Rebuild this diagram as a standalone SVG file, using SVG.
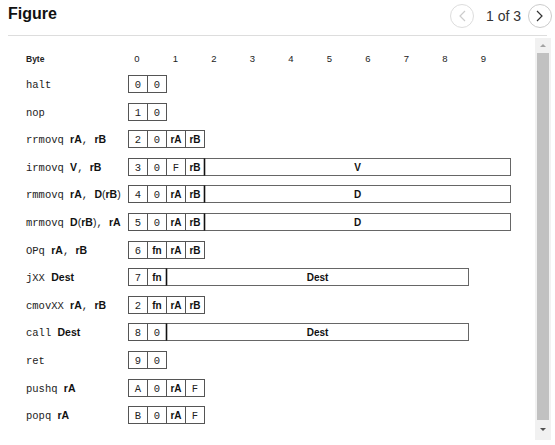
<svg xmlns="http://www.w3.org/2000/svg" width="555" height="445" viewBox="0 0 555 445">
<style>
.mono{font-family:"Liberation Mono","Courier New",Courier,"Nimbus Mono PS",monospace;font-size:10.5px;fill:#222}
.b{font-family:"Liberation Sans",Arial,sans-serif;font-weight:bold;font-size:10.5px;fill:#111}
.p{font-family:"Liberation Sans",Arial,sans-serif;font-size:10.5px;fill:#222}
.cell{fill:#fff;stroke:#555;stroke-width:1}
.long{fill:#fff;stroke:#666;stroke-width:1}
.sep{stroke:#111;stroke-width:1.6}
.cm{font-family:"Liberation Mono","Courier New",Courier,"Nimbus Mono PS",monospace;font-size:10.5px;fill:#222;text-anchor:middle}
.cb{font-family:"Liberation Sans",Arial,sans-serif;font-weight:bold;font-size:10px;fill:#111;text-anchor:middle}
.hdr{font-family:"Liberation Sans",Arial,sans-serif;font-size:9.5px;fill:#222;text-anchor:middle}
</style>
<rect width="555" height="445" fill="#fff"/>
<g id="header">
<text x="8" y="19" font-family="Liberation Sans,Arial,sans-serif" font-weight="bold" font-size="16" fill="#111">Figure</text>
<circle cx="462" cy="16" r="11.5" fill="#fff" stroke="#ddd"/>
<polyline points="465,11 460,16 465,21" fill="none" stroke="#ccc" stroke-width="1.2"/>
<text x="486" y="21" font-family="Liberation Sans,Arial,sans-serif" font-size="14" fill="#333">1 of 3</text>
<circle cx="540" cy="16" r="11.5" fill="#fff" stroke="#ccc"/>
<polyline points="537,11 542,16 537,21" fill="none" stroke="#333" stroke-width="1.2"/>
<line x1="8" y1="35.5" x2="547" y2="35.5" stroke="#ddd"/>
</g>
<g id="scrollbar">
<rect x="535" y="38" width="16" height="402" fill="#f1f1f1"/>
<rect x="537" y="53" width="12" height="367" fill="#c1c1c1"/>
<polygon points="540,47 546,47 543,44" fill="#a3a3a3"/>
<polygon points="540,428 546,428 543,431" fill="#505050"/>
</g>
<g id="byte-row">
<text x="26" y="62" font-family="Liberation Sans,Arial,sans-serif" font-weight="bold" font-size="8.5" fill="#222">Byte</text>
<text class="hdr" x="137" y="62">0</text>
<text class="hdr" x="175.5" y="62">1</text>
<text class="hdr" x="214" y="62">2</text>
<text class="hdr" x="252.5" y="62">3</text>
<text class="hdr" x="291" y="62">4</text>
<text class="hdr" x="329.5" y="62">5</text>
<text class="hdr" x="368" y="62">6</text>
<text class="hdr" x="406.5" y="62">7</text>
<text class="hdr" x="445" y="62">8</text>
<text class="hdr" x="483.5" y="62">9</text>
</g>

<g id="halt">
<text class="mono" x="26" y="88">halt</text>
<rect class="cell" x="128.5" y="75.5" width="19" height="17"/><rect class="cell" x="147.5" y="75.5" width="19" height="17"/>
<text class="cm" x="138" y="88">0</text><text class="cm" x="157" y="88">0</text>
</g>
<g id="nop">
<text class="mono" x="26" y="116">nop</text>
<rect class="cell" x="128.5" y="103.5" width="19" height="17"/><rect class="cell" x="147.5" y="103.5" width="19" height="17"/>
<text class="cm" x="138" y="116">1</text><text class="cm" x="157" y="116">0</text>
</g>
<g id="rrmovq">
<text x="26" y="143"><tspan class="mono">rrmovq </tspan><tspan class="b">rA</tspan><tspan class="mono">, </tspan><tspan class="b">rB</tspan></text>
<rect class="cell" x="128.5" y="130.5" width="19" height="17"/><rect class="cell" x="147.5" y="130.5" width="19" height="17"/><rect class="cell" x="166.5" y="130.5" width="19" height="17"/><rect class="cell" x="185.5" y="130.5" width="19" height="17"/>
<text class="cm" x="138" y="143">2</text><text class="cm" x="157" y="143">0</text><text class="cb" x="176" y="143">rA</text><text class="cb" x="195" y="143">rB</text>
</g>
<g id="irmovq">
<text x="26" y="171"><tspan class="mono">irmovq </tspan><tspan class="b">V</tspan><tspan class="mono">, </tspan><tspan class="b">rB</tspan></text>
<rect class="long" x="204.5" y="158.5" width="306" height="17"/>
<rect class="cell" x="128.5" y="158.5" width="19" height="17"/><rect class="cell" x="147.5" y="158.5" width="19" height="17"/><rect class="cell" x="166.5" y="158.5" width="19" height="17"/><rect class="cell" x="185.5" y="158.5" width="19" height="17"/>
<line class="sep" x1="204.5" y1="158.5" x2="204.5" y2="175.5"/>
<text class="cm" x="138" y="171">3</text><text class="cm" x="157" y="171">0</text><text class="cm" x="176" y="171">F</text><text class="cb" x="195" y="171">rB</text>
<text class="cb" x="357.5" y="171">V</text>
</g>
<g id="rmmovq">
<text x="26" y="198"><tspan class="mono">rmmovq </tspan><tspan class="b">rA</tspan><tspan class="mono">, </tspan><tspan class="b">D</tspan><tspan class="p">(</tspan><tspan class="b">rB</tspan><tspan class="p">)</tspan></text>
<rect class="long" x="204.5" y="185.5" width="306" height="17"/>
<rect class="cell" x="128.5" y="185.5" width="19" height="17"/><rect class="cell" x="147.5" y="185.5" width="19" height="17"/><rect class="cell" x="166.5" y="185.5" width="19" height="17"/><rect class="cell" x="185.5" y="185.5" width="19" height="17"/>
<line class="sep" x1="204.5" y1="185.5" x2="204.5" y2="202.5"/>
<text class="cm" x="138" y="198">4</text><text class="cm" x="157" y="198">0</text><text class="cb" x="176" y="198">rA</text><text class="cb" x="195" y="198">rB</text>
<text class="cb" x="357.5" y="198">D</text>
</g>
<g id="mrmovq">
<text x="26" y="226"><tspan class="mono">mrmovq </tspan><tspan class="b">D</tspan><tspan class="p">(</tspan><tspan class="b">rB</tspan><tspan class="p">)</tspan><tspan class="mono">, </tspan><tspan class="b">rA</tspan></text>
<rect class="long" x="204.5" y="213.5" width="306" height="17"/>
<rect class="cell" x="128.5" y="213.5" width="19" height="17"/><rect class="cell" x="147.5" y="213.5" width="19" height="17"/><rect class="cell" x="166.5" y="213.5" width="19" height="17"/><rect class="cell" x="185.5" y="213.5" width="19" height="17"/>
<line class="sep" x1="204.5" y1="213.5" x2="204.5" y2="230.5"/>
<text class="cm" x="138" y="226">5</text><text class="cm" x="157" y="226">0</text><text class="cb" x="176" y="226">rA</text><text class="cb" x="195" y="226">rB</text>
<text class="cb" x="357.5" y="226">D</text>
</g>
<g id="OPq">
<text x="26" y="254"><tspan class="mono">OPq </tspan><tspan class="b">rA</tspan><tspan class="mono">, </tspan><tspan class="b">rB</tspan></text>
<rect class="cell" x="128.5" y="241.5" width="19" height="17"/><rect class="cell" x="147.5" y="241.5" width="19" height="17"/><rect class="cell" x="166.5" y="241.5" width="19" height="17"/><rect class="cell" x="185.5" y="241.5" width="19" height="17"/>
<text class="cm" x="138" y="254">6</text><text class="cb" x="157" y="254">fn</text><text class="cb" x="176" y="254">rA</text><text class="cb" x="195" y="254">rB</text>
</g>
<g id="jXX">
<text x="26" y="281"><tspan class="mono">jXX </tspan><tspan class="b">Dest</tspan></text>
<rect class="long" x="166.5" y="268.5" width="302" height="17"/>
<rect class="cell" x="128.5" y="268.5" width="19" height="17"/><rect class="cell" x="147.5" y="268.5" width="19" height="17"/>
<line class="sep" x1="166.5" y1="268.5" x2="166.5" y2="285.5"/>
<text class="cm" x="138" y="281">7</text><text class="cb" x="157" y="281">fn</text>
<text class="cb" x="317.5" y="281">Dest</text>
</g>
<g id="cmovXX">
<text x="26" y="309"><tspan class="mono">cmovXX </tspan><tspan class="b">rA</tspan><tspan class="mono">, </tspan><tspan class="b">rB</tspan></text>
<rect class="cell" x="128.5" y="296.5" width="19" height="17"/><rect class="cell" x="147.5" y="296.5" width="19" height="17"/><rect class="cell" x="166.5" y="296.5" width="19" height="17"/><rect class="cell" x="185.5" y="296.5" width="19" height="17"/>
<text class="cm" x="138" y="309">2</text><text class="cb" x="157" y="309">fn</text><text class="cb" x="176" y="309">rA</text><text class="cb" x="195" y="309">rB</text>
</g>
<g id="call">
<text x="26" y="336"><tspan class="mono">call </tspan><tspan class="b">Dest</tspan></text>
<rect class="long" x="166.5" y="323.5" width="302" height="17"/>
<rect class="cell" x="128.5" y="323.5" width="19" height="17"/><rect class="cell" x="147.5" y="323.5" width="19" height="17"/>
<line class="sep" x1="166.5" y1="323.5" x2="166.5" y2="340.5"/>
<text class="cm" x="138" y="336">8</text><text class="cm" x="157" y="336">0</text>
<text class="cb" x="317.5" y="336">Dest</text>
</g>
<g id="ret">
<text class="mono" x="26" y="364">ret</text>
<rect class="cell" x="128.5" y="351.5" width="19" height="17"/><rect class="cell" x="147.5" y="351.5" width="19" height="17"/>
<text class="cm" x="138" y="364">9</text><text class="cm" x="157" y="364">0</text>
</g>
<g id="pushq">
<text x="26" y="392"><tspan class="mono">pushq </tspan><tspan class="b">rA</tspan></text>
<rect class="cell" x="128.5" y="379.5" width="19" height="17"/><rect class="cell" x="147.5" y="379.5" width="19" height="17"/><rect class="cell" x="166.5" y="379.5" width="19" height="17"/><rect class="cell" x="185.5" y="379.5" width="19" height="17"/>
<text class="cm" x="138" y="392">A</text><text class="cm" x="157" y="392">0</text><text class="cb" x="176" y="392">rA</text><text class="cm" x="195" y="392">F</text>
</g>
<g id="popq">
<text x="26" y="419"><tspan class="mono">popq </tspan><tspan class="b">rA</tspan></text>
<rect class="cell" x="128.5" y="406.5" width="19" height="17"/><rect class="cell" x="147.5" y="406.5" width="19" height="17"/><rect class="cell" x="166.5" y="406.5" width="19" height="17"/><rect class="cell" x="185.5" y="406.5" width="19" height="17"/>
<text class="cm" x="138" y="419">B</text><text class="cm" x="157" y="419">0</text><text class="cb" x="176" y="419">rA</text><text class="cm" x="195" y="419">F</text>
</g>
<g id="connectors"></g>
</svg>
